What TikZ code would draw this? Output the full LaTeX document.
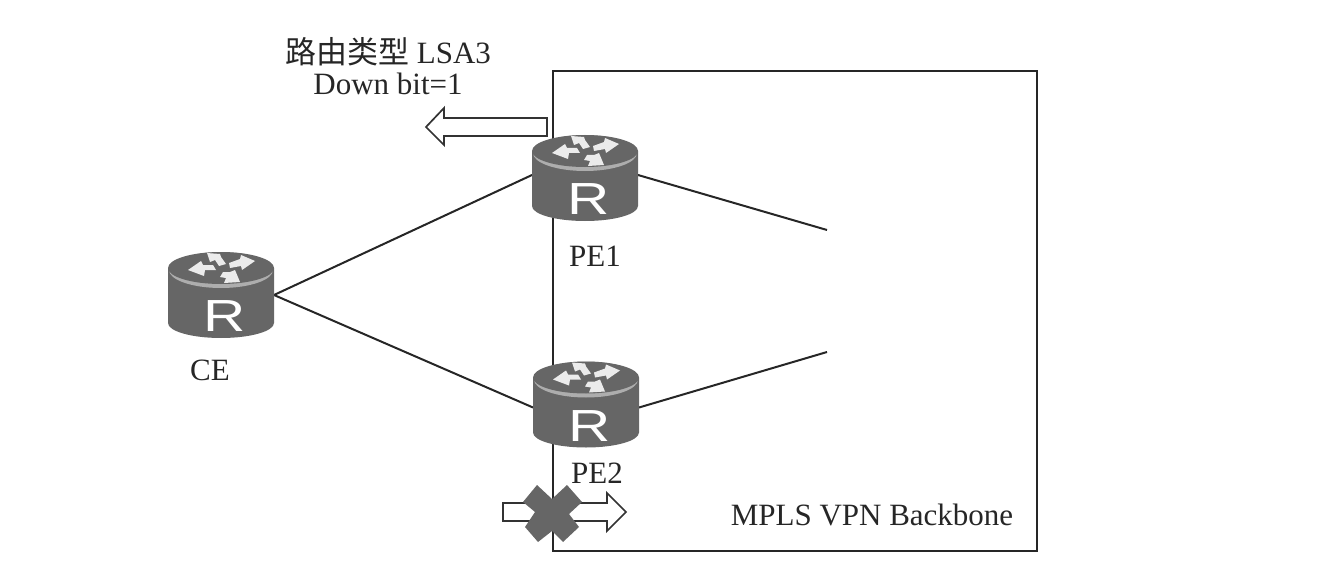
\documentclass[tikz,border=0pt]{standalone}
\usepackage{fontspec}
\setmainfont{Liberation Serif}
\newfontfamily\cjk{Noto Sans CJK SC}
\newfontfamily\rsans{Liberation Sans}
\usetikzlibrary{backgrounds}
\definecolor{routergray}{gray}{0.40}
\definecolor{routerrim}{gray}{0.68}
\tikzset{
  x=1pt, y=-1pt,
  line/.style={line width=2pt, black!85},
  label/.style={inner sep=0pt, font=\fontsize{31}{36}\selectfont, text=black!85},
  flow/.style={line width=1.7pt, black!80, fill=white, line join=miter},
  router/.style={minimum width=106pt, minimum height=86pt, inner sep=0pt, outer sep=0pt, path picture={
    % origin at centre of the node
    \fill[routergray] (-53,-27) -- (-53,28) arc[start angle=180, end angle=0, x radius=53, y radius=15]
      -- (53,-27) -- cycle;
    \fill[routerrim] (0,-25) ellipse[x radius=52, y radius=18];
    \fill[routergray] (0,-27) ellipse[x radius=53, y radius=16];
    % the four arrows on top
    \fill[white!92!black] (-14,-42) -- (-1,-41) -- (0,-38) -- (5,-31) -- (-2,-29) -- (-6,-35) -- (-11,-33) -- cycle;
    \fill[white!92!black] (-33,-25) -- (-20,-34) -- (-18,-30) -- (-8,-30) -- (-5,-25) -- (-16,-25) -- (-17,-19) -- cycle;
    \fill[white!92!black] (34,-34) -- (20,-40) -- (19,-36) -- (8,-32) -- (9,-27) -- (20,-29) -- (21,-25) -- cycle;
    \fill[white!92!black] (19,-13) -- (3,-12) -- (5,-17) -- (-1,-18) -- (2,-23) -- (9,-23) -- (14,-25) -- cycle;
    \node[text=white, inner sep=0pt] at (3.5,21.5) {\fontsize{45}{45}\rsans\selectfont\scalebox{1.3}[1]{R}};
  }},
}
\begin{document}
\begin{tikzpicture}
\useasboundingbox (0,0) rectangle (1333,567);

% routers
\node[router] (CE)  at (221,295) {};
\node[router] (PE1) at (585,178) {};
\node[router] (PE2) at (586,404.5) {};

% free ends of the two backbone links
\coordinate (end1) at (827,230);
\coordinate (end2) at (827,352);

% backbone box and links behind the routers
\begin{scope}[on background layer]
  \draw[line] (553,71) rectangle (1037,551);
  \draw[line] (CE.east) -- ([yshift=3]PE1.west);
  \draw[line] (CE.east) -- ([yshift=-3]PE2.west);
  \draw[line] ([yshift=3]PE1.east) -- (end1);
  \draw[line] ([yshift=-3]PE2.east) -- (end2);
\end{scope}

% labels
\node[label] (lCE)  at (210,370) {CE};
\node[label] (lPE1) at (595,256) {PE1};
\node[label] (lPE2) at (597,473) {PE2};
\node[label] (lmpls) at (872,515) {MPLS VPN Backbone};
\node[label] (ltype) at (388,52) {{\cjk 路由类型} LSA3};
\node[label] (lbit)  at (388,84) {Down bit=1};

% route arrows
\draw[flow] (547,118) -- (444,118) -- (444,108) -- (426,127) -- (444,145) -- (444,136) -- (547,136) -- cycle;
\draw[flow] (503,503) -- (607,503) -- (607,493) -- (626,512) -- (607,531) -- (607,521) -- (503,521) -- cycle;

% failed link cross
\fill[routergray] (537,485) -- (552,499) -- (567,485) -- (582,502) -- (569,514) -- (579,527) -- (563,542)
  -- (552,531) -- (538,542) -- (525,527) -- (535,512) -- (523,502) -- cycle;
\end{tikzpicture}
\end{document}
